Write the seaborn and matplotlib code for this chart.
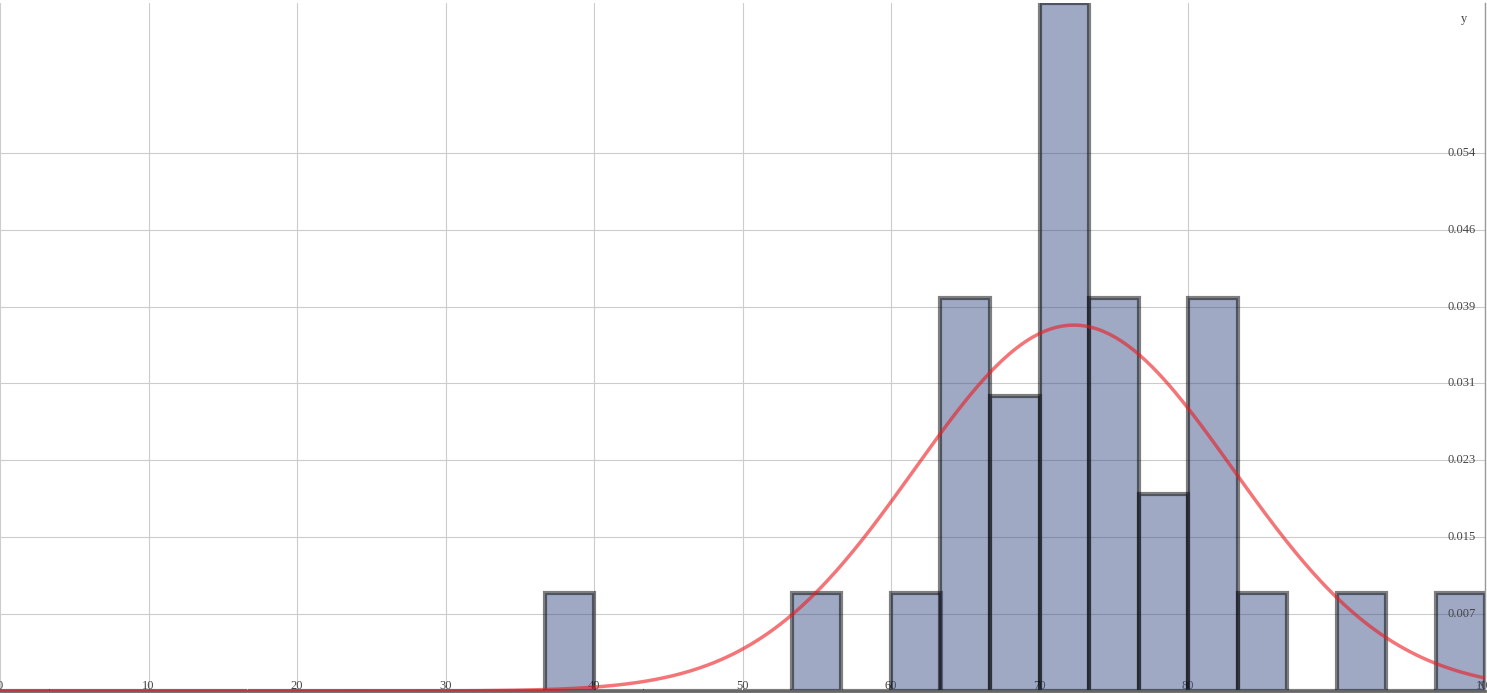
import numpy as np
import matplotlib
matplotlib.use('Agg')
import matplotlib.pyplot as plt
import seaborn as sns

# sample values (30 points, bins of width 10/3)
values = [37.5, 54.0, 61.0,
          64.0, 65.0, 65.5, 66.0,
          67.5, 68.5, 69.5,
          70.5, 70.8, 71.0, 71.5, 71.5, 72.0, 72.0,
          74.0, 74.5, 75.0, 75.5,
          77.5, 78.0,
          80.5, 81.0, 81.5, 82.0,
          84.0, 90.5, 97.5]
x_ticks = [0, 10, 20, 30, 40, 50, 60, 70, 80, 100]
y_ticks = [0.0704 * k / 9 for k in range(1, 8)]
y_labels = ['0.007', '0.015', '0.023', '0.031', '0.039', '0.046', '0.054']

sns.set_theme(style='whitegrid')
plt.rcParams['font.family'] = ['Liberation Serif', 'DejaVu Serif']

fig = plt.figure(figsize=(14.87, 6.93), dpi=100)
ax = fig.add_axes([0, 2 / 693, 1485 / 1487, 688 / 693])

sns.histplot(x=values, bins=30, binrange=(0, 100), stat='density', ax=ax,
             facecolor=(0.25, 0.33, 0.54, 0.5), edgecolor=(0, 0, 0, 0.5),
             linewidth=3)

# normal curve fitted to the sample
mu = np.mean(values)
sd = np.std(values)
xs = np.linspace(0, 100, 500)
pdf = np.exp(-0.5 * ((xs - mu) / sd) ** 2) / (sd * np.sqrt(2 * np.pi))
ax.plot(xs, pdf, color=(0.92, 0.1, 0.12, 0.6), lw=2.5, zorder=5)

ax.set_xlim(0, 100)
ax.set_ylim(0, 0.07)
ax.set_xticks(x_ticks)
ax.set_yticks(y_ticks)
ax.set_yticklabels([])
ax.set_xlabel('')
ax.set_ylabel('')
ax.grid(True, color='#cccccc', lw=0.8)
ax.set_axisbelow(True)
ax.tick_params(axis='x', direction='in', pad=-8, labelsize=9,
               labelcolor='#444444', length=0)
ax.tick_params(axis='y', length=0)

for y, lab in zip(y_ticks, y_labels):
    ax.text(0.994, y, lab, transform=ax.get_yaxis_transform(), ha='right',
            va='center', fontsize=9, color='#444444')
ax.text(0.988, 0.985, 'y', transform=ax.transAxes, ha='right', va='top',
        fontsize=9, color='#444444')
ax.text(0.999, 0.004, 'x', transform=ax.transAxes, ha='right', va='bottom',
        fontsize=8, color='#444444')

for side in ['top', 'left']:
    ax.spines[side].set_visible(False)
ax.spines['bottom'].set_color('#666666')
ax.spines['bottom'].set_linewidth(2)
ax.spines['right'].set_color('#999999')
ax.spines['right'].set_linewidth(1)

fig.savefig('out.png', dpi=100)
